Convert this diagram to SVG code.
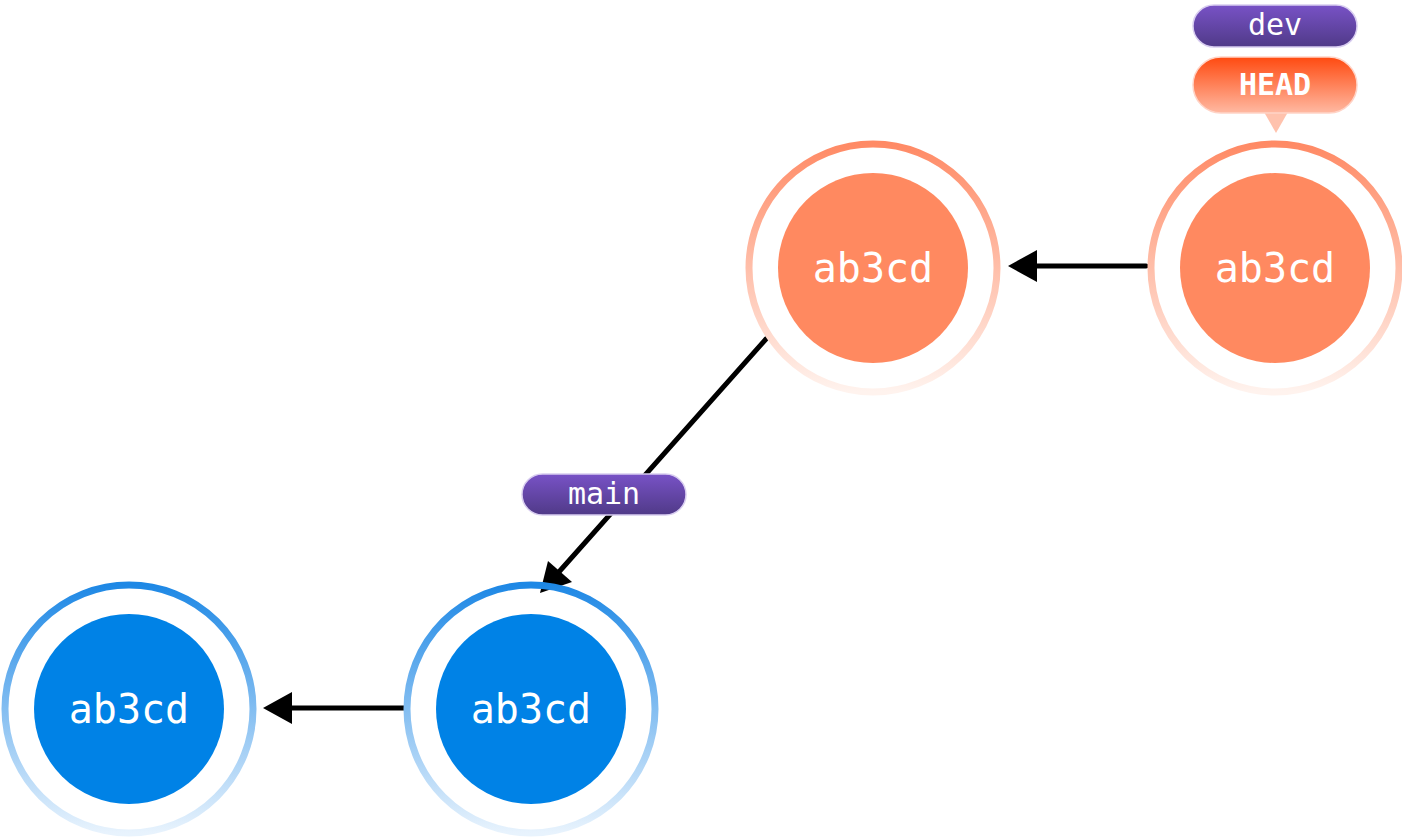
<svg xmlns="http://www.w3.org/2000/svg" width="1402" height="838" viewBox="0 0 1402 838">
<style>
.lbl{font-family:"DejaVu Sans Mono","Liberation Mono",monospace;fill:#fff;text-anchor:middle}
.node{font-size:40px}
.tag{font-size:30px}
.conn{stroke:#000;stroke-width:5;stroke-linecap:round;fill:none}
</style>
<defs>
<linearGradient id="go" x1="0" y1="0" x2="0" y2="1"><stop offset="0" stop-color="#ff8a65"/><stop offset="1" stop-color="#fff3ee"/></linearGradient>
<linearGradient id="gb" x1="0" y1="0" x2="0" y2="1"><stop offset="0" stop-color="#1e88e5"/><stop offset="1" stop-color="#e8f3fd"/></linearGradient>
<linearGradient id="gp" x1="0" y1="0" x2="0" y2="1"><stop offset="0" stop-color="#7852c6"/><stop offset="1" stop-color="#503a88"/></linearGradient>
<linearGradient id="gh" x1="0" y1="0" x2="0" y2="1"><stop offset="0" stop-color="#ff4a10"/><stop offset="1" stop-color="#ffb9a2"/></linearGradient>
<marker id="ah" markerWidth="8" markerHeight="8" refX="7" refY="4" orient="auto" markerUnits="userSpaceOnUse" viewBox="0 0 8 8"><path d="M0,0L8,4L0,8z" fill="#000"/></marker>
</defs>
<g id="connectors">
<line class="conn" x1="1146" y1="266" x2="1036" y2="266"/>
<path d="M1008,266L1037,250L1037,282z"/>
<line class="conn" x1="404" y1="708" x2="292" y2="708"/>
<path d="M263,708L292,692L292,724z"/>
<line class="conn" x1="766" y1="339" x2="558" y2="573"/>
<path d="M540,593L548,561L572,582z"/>
</g>
<g id="n1"><circle cx="129" cy="709" r="124" fill="none" stroke="url(#gb)" stroke-width="7"/><circle cx="129" cy="709" r="95" fill="#0082e6"/><text class="lbl node" x="129" y="723">ab3cd</text></g>
<g id="n2"><circle cx="531" cy="709" r="124" fill="none" stroke="url(#gb)" stroke-width="7"/><circle cx="531" cy="709" r="95" fill="#0082e6"/><text class="lbl node" x="531" y="723">ab3cd</text></g>
<g id="n3"><circle cx="873" cy="268" r="124" fill="none" stroke="url(#go)" stroke-width="7"/><circle cx="873" cy="268" r="95" fill="#ff8960"/><text class="lbl node" x="873" y="282">ab3cd</text></g>
<g id="n4"><circle cx="1275" cy="268" r="124" fill="none" stroke="url(#go)" stroke-width="7"/><circle cx="1275" cy="268" r="95" fill="#ff8960"/><text class="lbl node" x="1275" y="282">ab3cd</text></g>
<g id="main"><rect x="522" y="474" width="164" height="41" rx="20.5" fill="url(#gp)" stroke="#d8cdf0" stroke-width="1.5"/><text class="lbl tag" x="604" y="504">main</text></g>
<g id="dev"><rect x="1193" y="5" width="164" height="42" rx="21" fill="url(#gp)" stroke="#d8cdf0" stroke-width="1.5"/><text class="lbl tag" x="1275" y="35">dev</text></g>
<g id="head"><path d="M1264,112L1276,133L1288,112z" fill="#ffc2ad"/><rect x="1193" y="57" width="164" height="56" rx="28" fill="url(#gh)" stroke="#ffd3c6" stroke-width="1.5"/><text class="lbl tag" x="1275" y="95" font-weight="bold">HEAD</text></g>
</svg>
